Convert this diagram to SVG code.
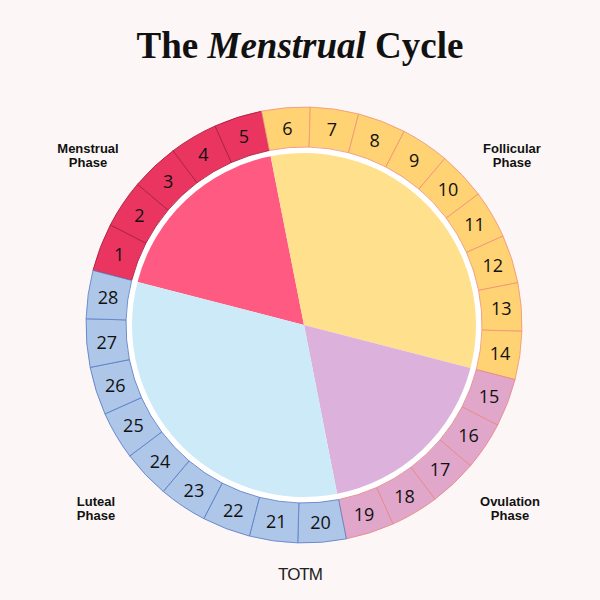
<svg xmlns="http://www.w3.org/2000/svg" xmlns:xlink="http://www.w3.org/1999/xlink" width="600" height="600" viewBox="0 0 600 600">
<style>
.num{font-family:"Open Sans","Liberation Sans",sans-serif;font-size:18px;fill:#111;text-anchor:middle;dominant-baseline:central}
.ph{font-family:"Liberation Sans",Arial,sans-serif;font-weight:bold;font-size:13px;fill:#111;text-anchor:middle}
.m{fill:#ea3560;stroke:#a8223f;stroke-width:0.8}
.f{fill:#ffd274;stroke:#f0957a;stroke-width:0.8}
.o{fill:#e0a7cb;stroke:#e88a86;stroke-width:0.8}
.l{fill:#aec7e8;stroke:#5b7ec8;stroke-width:0.8}
</style>
<defs>
<path id="seg" d="M178,0 L218,0 A218,218 0 0 1 212.53,48.51 L173.54,39.61 A178,178 0 0 0 178,0 Z"/>
</defs>
<rect width="600" height="600" fill="#fcf7f6"/>
<text x="300" y="58" text-anchor="middle" font-family="'Liberation Serif',serif" font-weight="bold" font-size="37" fill="#111">The <tspan font-style="italic">Menstrual</tspan> Cycle</text>
<g id="ring" transform="translate(304,325)">
<circle r="180" fill="#fff"/>
<g transform="rotate(194.5)"><use href="#seg" class="m"/><text class="num" x="196.75" y="22.17" transform="rotate(-194.5 196.75 22.17)">1</text></g>
<g transform="rotate(207.357)"><use href="#seg" class="m"/><text class="num" x="196.75" y="22.17" transform="rotate(-207.357 196.75 22.17)">2</text></g>
<g transform="rotate(220.214)"><use href="#seg" class="m"/><text class="num" x="196.75" y="22.17" transform="rotate(-220.214 196.75 22.17)">3</text></g>
<g transform="rotate(233.071)"><use href="#seg" class="m"/><text class="num" x="196.75" y="22.17" transform="rotate(-233.071 196.75 22.17)">4</text></g>
<g transform="rotate(245.929)"><use href="#seg" class="m"/><text class="num" x="196.75" y="22.17" transform="rotate(-245.929 196.75 22.17)">5</text></g>
<g transform="rotate(258.786)"><use href="#seg" class="f"/><text class="num" x="196.75" y="22.17" transform="rotate(-258.786 196.75 22.17)">6</text></g>
<g transform="rotate(271.643)"><use href="#seg" class="f"/><text class="num" x="196.75" y="22.17" transform="rotate(-271.643 196.75 22.17)">7</text></g>
<g transform="rotate(284.5)"><use href="#seg" class="f"/><text class="num" x="196.75" y="22.17" transform="rotate(-284.5 196.75 22.17)">8</text></g>
<g transform="rotate(297.357)"><use href="#seg" class="f"/><text class="num" x="196.75" y="22.17" transform="rotate(-297.357 196.75 22.17)">9</text></g>
<g transform="rotate(310.214)"><use href="#seg" class="f"/><text class="num" x="196.75" y="22.17" transform="rotate(-310.214 196.75 22.17)">10</text></g>
<g transform="rotate(323.071)"><use href="#seg" class="f"/><text class="num" x="196.75" y="22.17" transform="rotate(-323.071 196.75 22.17)">11</text></g>
<g transform="rotate(335.929)"><use href="#seg" class="f"/><text class="num" x="196.75" y="22.17" transform="rotate(-335.929 196.75 22.17)">12</text></g>
<g transform="rotate(348.786)"><use href="#seg" class="f"/><text class="num" x="196.75" y="22.17" transform="rotate(-348.786 196.75 22.17)">13</text></g>
<g transform="rotate(1.643)"><use href="#seg" class="f"/><text class="num" x="196.75" y="22.17" transform="rotate(-1.643 196.75 22.17)">14</text></g>
<g transform="rotate(14.5)"><use href="#seg" class="o"/><text class="num" x="196.75" y="22.17" transform="rotate(-14.5 196.75 22.17)">15</text></g>
<g transform="rotate(27.357)"><use href="#seg" class="o"/><text class="num" x="196.75" y="22.17" transform="rotate(-27.357 196.75 22.17)">16</text></g>
<g transform="rotate(40.214)"><use href="#seg" class="o"/><text class="num" x="196.75" y="22.17" transform="rotate(-40.214 196.75 22.17)">17</text></g>
<g transform="rotate(53.071)"><use href="#seg" class="o"/><text class="num" x="196.75" y="22.17" transform="rotate(-53.071 196.75 22.17)">18</text></g>
<g transform="rotate(65.929)"><use href="#seg" class="o"/><text class="num" x="196.75" y="22.17" transform="rotate(-65.929 196.75 22.17)">19</text></g>
<g transform="rotate(78.786)"><use href="#seg" class="l"/><text class="num" x="196.75" y="22.17" transform="rotate(-78.786 196.75 22.17)">20</text></g>
<g transform="rotate(91.643)"><use href="#seg" class="l"/><text class="num" x="196.75" y="22.17" transform="rotate(-91.643 196.75 22.17)">21</text></g>
<g transform="rotate(104.5)"><use href="#seg" class="l"/><text class="num" x="196.75" y="22.17" transform="rotate(-104.5 196.75 22.17)">22</text></g>
<g transform="rotate(117.357)"><use href="#seg" class="l"/><text class="num" x="196.75" y="22.17" transform="rotate(-117.357 196.75 22.17)">23</text></g>
<g transform="rotate(130.214)"><use href="#seg" class="l"/><text class="num" x="196.75" y="22.17" transform="rotate(-130.214 196.75 22.17)">24</text></g>
<g transform="rotate(143.071)"><use href="#seg" class="l"/><text class="num" x="196.75" y="22.17" transform="rotate(-143.071 196.75 22.17)">25</text></g>
<g transform="rotate(155.929)"><use href="#seg" class="l"/><text class="num" x="196.75" y="22.17" transform="rotate(-155.929 196.75 22.17)">26</text></g>
<g transform="rotate(168.786)"><use href="#seg" class="l"/><text class="num" x="196.75" y="22.17" transform="rotate(-168.786 196.75 22.17)">27</text></g>
<g transform="rotate(181.643)"><use href="#seg" class="l"/><text class="num" x="196.75" y="22.17" transform="rotate(-181.643 196.75 22.17)">28</text></g>
</g>
<g id="pie" transform="translate(304,325)">
<path d="M0,0 L-166.5,-43.1 A172,172 0 0 1 -33.4,-168.7 Z" fill="#ff5a82"/>
<path d="M0,0 L-33.4,-168.7 A172,172 0 0 1 166.5,43.1 Z" fill="#ffe08c"/>
<path d="M0,0 L166.5,43.1 A172,172 0 0 1 33.1,168.8 Z" fill="#dcb2dc"/>
<path d="M0,0 L33.1,168.8 A172,172 0 0 1 -166.5,-43.1 Z" fill="#cdeaf9"/>
</g>
<g id="labels">
<text class="ph" x="88" y="153">Menstrual</text><text class="ph" x="88" y="167">Phase</text>
<text class="ph" x="512" y="153">Follicular</text><text class="ph" x="512" y="167">Phase</text>
<text class="ph" x="96" y="506">Luteal</text><text class="ph" x="96" y="520">Phase</text>
<text class="ph" x="510" y="506">Ovulation</text><text class="ph" x="510" y="520">Phase</text>
</g>
<text x="300" y="580" text-anchor="middle" font-family="'Liberation Sans',sans-serif" font-size="17" fill="#222" letter-spacing="-1">TOTM</text>
</svg>
